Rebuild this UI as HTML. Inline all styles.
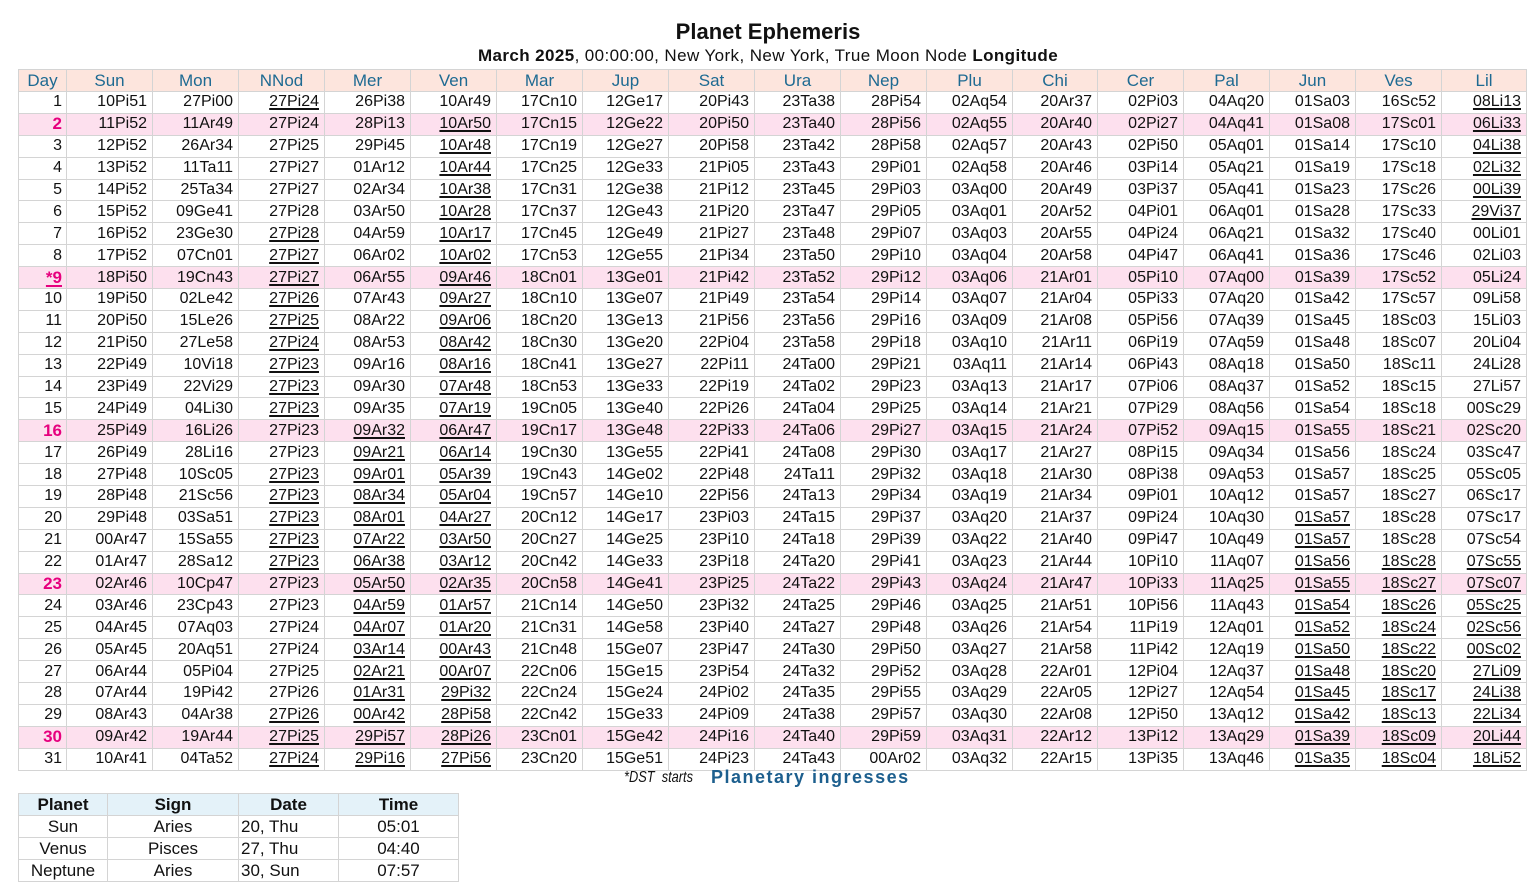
<!DOCTYPE html>
<html><head><meta charset="utf-8">
<style>
body{margin:0;width:1536px;height:889px;background:#fff;position:relative;overflow:hidden;font-family:"Liberation Sans",Arial,sans-serif;color:#111}
.t1{position:absolute;left:0;width:1536px;top:19px;text-align:center;font-weight:bold;font-size:22px;line-height:26px}
.t2{position:absolute;left:0;width:1536px;top:46px;text-align:center;font-size:17px;line-height:20px;letter-spacing:0.4px}
table{border-collapse:collapse;position:absolute;table-layout:fixed}
#m{left:18px;top:69px}
#m td{border:1px solid #d4d4d4;font-size:16px;text-align:right;padding:0 5px 0 0;height:20.9px;line-height:20px;white-space:nowrap;overflow:hidden}
#m tr.h td{background:#fde5dd;color:#1e6a92;text-align:center;padding:0;height:21px;font-size:17px}
#m tr.p td{background:#fde0ee}
#m tr.p td:first-child{color:#e6007e;font-weight:bold;font-size:17px}
.u{text-decoration:underline;text-decoration-thickness:2px;text-underline-offset:2px}
#m td:first-child{padding-right:4px}
.dst{position:absolute;left:624px;top:769px;font-size:16px;font-style:italic;transform:scaleX(0.8);transform-origin:left;white-space:nowrap}
.pi{position:absolute;left:711px;top:767px;font-size:18px;font-weight:bold;color:#1d5f8e;letter-spacing:1.5px;white-space:nowrap}
#g{left:18px;top:793px}
#g td{border:1px solid #d4d4d4;font-size:17px;text-align:center;height:21px;line-height:20px;padding:0}
#g tr.h td{background:#e4f2f9;font-weight:bold}
#g td.l{text-align:left;padding-left:2px}
</style></head><body>
<div class="t1">Planet Ephemeris</div>
<div class="t2"><b>March 2025</b>, 00:00:00, New York, New York, True Moon Node <b>Longitude</b></div>
<table id="m">
<colgroup><col style="width:48px"><col style="width:86px"><col style="width:86px"><col style="width:86px"><col style="width:86px"><col style="width:86px"><col style="width:86px"><col style="width:86px"><col style="width:86px"><col style="width:86px"><col style="width:86px"><col style="width:86px"><col style="width:85px"><col style="width:86px"><col style="width:86px"><col style="width:86px"><col style="width:86px"><col style="width:85px"></colgroup>
<tr class="h"><td>Day</td><td>Sun</td><td>Mon</td><td>NNod</td><td>Mer</td><td>Ven</td><td>Mar</td><td>Jup</td><td>Sat</td><td>Ura</td><td>Nep</td><td>Plu</td><td>Chi</td><td>Cer</td><td>Pal</td><td>Jun</td><td>Ves</td><td>Lil</td></tr>
<tr><td>1</td><td>10Pi51</td><td>27Pi00</td><td><span class="u">27Pi24</span></td><td>26Pi38</td><td>10Ar49</td><td>17Cn10</td><td>12Ge17</td><td>20Pi43</td><td>23Ta38</td><td>28Pi54</td><td>02Aq54</td><td>20Ar37</td><td>02Pi03</td><td>04Aq20</td><td>01Sa03</td><td>16Sc52</td><td><span class="u">08Li13</span></td></tr>
<tr class="p"><td>2</td><td>11Pi52</td><td>11Ar49</td><td>27Pi24</td><td>28Pi13</td><td><span class="u">10Ar50</span></td><td>17Cn15</td><td>12Ge22</td><td>20Pi50</td><td>23Ta40</td><td>28Pi56</td><td>02Aq55</td><td>20Ar40</td><td>02Pi27</td><td>04Aq41</td><td>01Sa08</td><td>17Sc01</td><td><span class="u">06Li33</span></td></tr>
<tr><td>3</td><td>12Pi52</td><td>26Ar34</td><td>27Pi25</td><td>29Pi45</td><td><span class="u">10Ar48</span></td><td>17Cn19</td><td>12Ge27</td><td>20Pi58</td><td>23Ta42</td><td>28Pi58</td><td>02Aq57</td><td>20Ar43</td><td>02Pi50</td><td>05Aq01</td><td>01Sa14</td><td>17Sc10</td><td><span class="u">04Li38</span></td></tr>
<tr><td>4</td><td>13Pi52</td><td>11Ta11</td><td>27Pi27</td><td>01Ar12</td><td><span class="u">10Ar44</span></td><td>17Cn25</td><td>12Ge33</td><td>21Pi05</td><td>23Ta43</td><td>29Pi01</td><td>02Aq58</td><td>20Ar46</td><td>03Pi14</td><td>05Aq21</td><td>01Sa19</td><td>17Sc18</td><td><span class="u">02Li32</span></td></tr>
<tr><td>5</td><td>14Pi52</td><td>25Ta34</td><td>27Pi27</td><td>02Ar34</td><td><span class="u">10Ar38</span></td><td>17Cn31</td><td>12Ge38</td><td>21Pi12</td><td>23Ta45</td><td>29Pi03</td><td>03Aq00</td><td>20Ar49</td><td>03Pi37</td><td>05Aq41</td><td>01Sa23</td><td>17Sc26</td><td><span class="u">00Li39</span></td></tr>
<tr><td>6</td><td>15Pi52</td><td>09Ge41</td><td>27Pi28</td><td>03Ar50</td><td><span class="u">10Ar28</span></td><td>17Cn37</td><td>12Ge43</td><td>21Pi20</td><td>23Ta47</td><td>29Pi05</td><td>03Aq01</td><td>20Ar52</td><td>04Pi01</td><td>06Aq01</td><td>01Sa28</td><td>17Sc33</td><td><span class="u">29Vi37</span></td></tr>
<tr><td>7</td><td>16Pi52</td><td>23Ge30</td><td><span class="u">27Pi28</span></td><td>04Ar59</td><td><span class="u">10Ar17</span></td><td>17Cn45</td><td>12Ge49</td><td>21Pi27</td><td>23Ta48</td><td>29Pi07</td><td>03Aq03</td><td>20Ar55</td><td>04Pi24</td><td>06Aq21</td><td>01Sa32</td><td>17Sc40</td><td>00Li01</td></tr>
<tr><td>8</td><td>17Pi52</td><td>07Cn01</td><td><span class="u">27Pi27</span></td><td>06Ar02</td><td><span class="u">10Ar02</span></td><td>17Cn53</td><td>12Ge55</td><td>21Pi34</td><td>23Ta50</td><td>29Pi10</td><td>03Aq04</td><td>20Ar58</td><td>04Pi47</td><td>06Aq41</td><td>01Sa36</td><td>17Sc46</td><td>02Li03</td></tr>
<tr class="p"><td><span class="u">*9</span></td><td>18Pi50</td><td>19Cn43</td><td><span class="u">27Pi27</span></td><td>06Ar55</td><td><span class="u">09Ar46</span></td><td>18Cn01</td><td>13Ge01</td><td>21Pi42</td><td>23Ta52</td><td>29Pi12</td><td>03Aq06</td><td>21Ar01</td><td>05Pi10</td><td>07Aq00</td><td>01Sa39</td><td>17Sc52</td><td>05Li24</td></tr>
<tr><td>10</td><td>19Pi50</td><td>02Le42</td><td><span class="u">27Pi26</span></td><td>07Ar43</td><td><span class="u">09Ar27</span></td><td>18Cn10</td><td>13Ge07</td><td>21Pi49</td><td>23Ta54</td><td>29Pi14</td><td>03Aq07</td><td>21Ar04</td><td>05Pi33</td><td>07Aq20</td><td>01Sa42</td><td>17Sc57</td><td>09Li58</td></tr>
<tr><td>11</td><td>20Pi50</td><td>15Le26</td><td><span class="u">27Pi25</span></td><td>08Ar22</td><td><span class="u">09Ar06</span></td><td>18Cn20</td><td>13Ge13</td><td>21Pi56</td><td>23Ta56</td><td>29Pi16</td><td>03Aq09</td><td>21Ar08</td><td>05Pi56</td><td>07Aq39</td><td>01Sa45</td><td>18Sc03</td><td>15Li03</td></tr>
<tr><td>12</td><td>21Pi50</td><td>27Le58</td><td><span class="u">27Pi24</span></td><td>08Ar53</td><td><span class="u">08Ar42</span></td><td>18Cn30</td><td>13Ge20</td><td>22Pi04</td><td>23Ta58</td><td>29Pi18</td><td>03Aq10</td><td>21Ar11</td><td>06Pi19</td><td>07Aq59</td><td>01Sa48</td><td>18Sc07</td><td>20Li04</td></tr>
<tr><td>13</td><td>22Pi49</td><td>10Vi18</td><td><span class="u">27Pi23</span></td><td>09Ar16</td><td><span class="u">08Ar16</span></td><td>18Cn41</td><td>13Ge27</td><td>22Pi11</td><td>24Ta00</td><td>29Pi21</td><td>03Aq11</td><td>21Ar14</td><td>06Pi43</td><td>08Aq18</td><td>01Sa50</td><td>18Sc11</td><td>24Li28</td></tr>
<tr><td>14</td><td>23Pi49</td><td>22Vi29</td><td><span class="u">27Pi23</span></td><td>09Ar30</td><td><span class="u">07Ar48</span></td><td>18Cn53</td><td>13Ge33</td><td>22Pi19</td><td>24Ta02</td><td>29Pi23</td><td>03Aq13</td><td>21Ar17</td><td>07Pi06</td><td>08Aq37</td><td>01Sa52</td><td>18Sc15</td><td>27Li57</td></tr>
<tr><td>15</td><td>24Pi49</td><td>04Li30</td><td><span class="u">27Pi23</span></td><td>09Ar35</td><td><span class="u">07Ar19</span></td><td>19Cn05</td><td>13Ge40</td><td>22Pi26</td><td>24Ta04</td><td>29Pi25</td><td>03Aq14</td><td>21Ar21</td><td>07Pi29</td><td>08Aq56</td><td>01Sa54</td><td>18Sc18</td><td>00Sc29</td></tr>
<tr class="p"><td>16</td><td>25Pi49</td><td>16Li26</td><td>27Pi23</td><td><span class="u">09Ar32</span></td><td><span class="u">06Ar47</span></td><td>19Cn17</td><td>13Ge48</td><td>22Pi33</td><td>24Ta06</td><td>29Pi27</td><td>03Aq15</td><td>21Ar24</td><td>07Pi52</td><td>09Aq15</td><td>01Sa55</td><td>18Sc21</td><td>02Sc20</td></tr>
<tr><td>17</td><td>26Pi49</td><td>28Li16</td><td>27Pi23</td><td><span class="u">09Ar21</span></td><td><span class="u">06Ar14</span></td><td>19Cn30</td><td>13Ge55</td><td>22Pi41</td><td>24Ta08</td><td>29Pi30</td><td>03Aq17</td><td>21Ar27</td><td>08Pi15</td><td>09Aq34</td><td>01Sa56</td><td>18Sc24</td><td>03Sc47</td></tr>
<tr><td>18</td><td>27Pi48</td><td>10Sc05</td><td><span class="u">27Pi23</span></td><td><span class="u">09Ar01</span></td><td><span class="u">05Ar39</span></td><td>19Cn43</td><td>14Ge02</td><td>22Pi48</td><td>24Ta11</td><td>29Pi32</td><td>03Aq18</td><td>21Ar30</td><td>08Pi38</td><td>09Aq53</td><td>01Sa57</td><td>18Sc25</td><td>05Sc05</td></tr>
<tr><td>19</td><td>28Pi48</td><td>21Sc56</td><td><span class="u">27Pi23</span></td><td><span class="u">08Ar34</span></td><td><span class="u">05Ar04</span></td><td>19Cn57</td><td>14Ge10</td><td>22Pi56</td><td>24Ta13</td><td>29Pi34</td><td>03Aq19</td><td>21Ar34</td><td>09Pi01</td><td>10Aq12</td><td>01Sa57</td><td>18Sc27</td><td>06Sc17</td></tr>
<tr><td>20</td><td>29Pi48</td><td>03Sa51</td><td><span class="u">27Pi23</span></td><td><span class="u">08Ar01</span></td><td><span class="u">04Ar27</span></td><td>20Cn12</td><td>14Ge17</td><td>23Pi03</td><td>24Ta15</td><td>29Pi37</td><td>03Aq20</td><td>21Ar37</td><td>09Pi24</td><td>10Aq30</td><td><span class="u">01Sa57</span></td><td>18Sc28</td><td>07Sc17</td></tr>
<tr><td>21</td><td>00Ar47</td><td>15Sa55</td><td><span class="u">27Pi23</span></td><td><span class="u">07Ar22</span></td><td><span class="u">03Ar50</span></td><td>20Cn27</td><td>14Ge25</td><td>23Pi10</td><td>24Ta18</td><td>29Pi39</td><td>03Aq22</td><td>21Ar40</td><td>09Pi47</td><td>10Aq49</td><td><span class="u">01Sa57</span></td><td>18Sc28</td><td>07Sc54</td></tr>
<tr><td>22</td><td>01Ar47</td><td>28Sa12</td><td><span class="u">27Pi23</span></td><td><span class="u">06Ar38</span></td><td><span class="u">03Ar12</span></td><td>20Cn42</td><td>14Ge33</td><td>23Pi18</td><td>24Ta20</td><td>29Pi41</td><td>03Aq23</td><td>21Ar44</td><td>10Pi10</td><td>11Aq07</td><td><span class="u">01Sa56</span></td><td><span class="u">18Sc28</span></td><td><span class="u">07Sc55</span></td></tr>
<tr class="p"><td>23</td><td>02Ar46</td><td>10Cp47</td><td>27Pi23</td><td><span class="u">05Ar50</span></td><td><span class="u">02Ar35</span></td><td>20Cn58</td><td>14Ge41</td><td>23Pi25</td><td>24Ta22</td><td>29Pi43</td><td>03Aq24</td><td>21Ar47</td><td>10Pi33</td><td>11Aq25</td><td><span class="u">01Sa55</span></td><td><span class="u">18Sc27</span></td><td><span class="u">07Sc07</span></td></tr>
<tr><td>24</td><td>03Ar46</td><td>23Cp43</td><td>27Pi23</td><td><span class="u">04Ar59</span></td><td><span class="u">01Ar57</span></td><td>21Cn14</td><td>14Ge50</td><td>23Pi32</td><td>24Ta25</td><td>29Pi46</td><td>03Aq25</td><td>21Ar51</td><td>10Pi56</td><td>11Aq43</td><td><span class="u">01Sa54</span></td><td><span class="u">18Sc26</span></td><td><span class="u">05Sc25</span></td></tr>
<tr><td>25</td><td>04Ar45</td><td>07Aq03</td><td>27Pi24</td><td><span class="u">04Ar07</span></td><td><span class="u">01Ar20</span></td><td>21Cn31</td><td>14Ge58</td><td>23Pi40</td><td>24Ta27</td><td>29Pi48</td><td>03Aq26</td><td>21Ar54</td><td>11Pi19</td><td>12Aq01</td><td><span class="u">01Sa52</span></td><td><span class="u">18Sc24</span></td><td><span class="u">02Sc56</span></td></tr>
<tr><td>26</td><td>05Ar45</td><td>20Aq51</td><td>27Pi24</td><td><span class="u">03Ar14</span></td><td><span class="u">00Ar43</span></td><td>21Cn48</td><td>15Ge07</td><td>23Pi47</td><td>24Ta30</td><td>29Pi50</td><td>03Aq27</td><td>21Ar58</td><td>11Pi42</td><td>12Aq19</td><td><span class="u">01Sa50</span></td><td><span class="u">18Sc22</span></td><td><span class="u">00Sc02</span></td></tr>
<tr><td>27</td><td>06Ar44</td><td>05Pi04</td><td>27Pi25</td><td><span class="u">02Ar21</span></td><td><span class="u">00Ar07</span></td><td>22Cn06</td><td>15Ge15</td><td>23Pi54</td><td>24Ta32</td><td>29Pi52</td><td>03Aq28</td><td>22Ar01</td><td>12Pi04</td><td>12Aq37</td><td><span class="u">01Sa48</span></td><td><span class="u">18Sc20</span></td><td><span class="u">27Li09</span></td></tr>
<tr><td>28</td><td>07Ar44</td><td>19Pi42</td><td>27Pi26</td><td><span class="u">01Ar31</span></td><td><span class="u">29Pi32</span></td><td>22Cn24</td><td>15Ge24</td><td>24Pi02</td><td>24Ta35</td><td>29Pi55</td><td>03Aq29</td><td>22Ar05</td><td>12Pi27</td><td>12Aq54</td><td><span class="u">01Sa45</span></td><td><span class="u">18Sc17</span></td><td><span class="u">24Li38</span></td></tr>
<tr><td>29</td><td>08Ar43</td><td>04Ar38</td><td><span class="u">27Pi26</span></td><td><span class="u">00Ar42</span></td><td><span class="u">28Pi58</span></td><td>22Cn42</td><td>15Ge33</td><td>24Pi09</td><td>24Ta38</td><td>29Pi57</td><td>03Aq30</td><td>22Ar08</td><td>12Pi50</td><td>13Aq12</td><td><span class="u">01Sa42</span></td><td><span class="u">18Sc13</span></td><td><span class="u">22Li34</span></td></tr>
<tr class="p"><td>30</td><td>09Ar42</td><td>19Ar44</td><td><span class="u">27Pi25</span></td><td><span class="u">29Pi57</span></td><td><span class="u">28Pi26</span></td><td>23Cn01</td><td>15Ge42</td><td>24Pi16</td><td>24Ta40</td><td>29Pi59</td><td>03Aq31</td><td>22Ar12</td><td>13Pi12</td><td>13Aq29</td><td><span class="u">01Sa39</span></td><td><span class="u">18Sc09</span></td><td><span class="u">20Li44</span></td></tr>
<tr><td>31</td><td>10Ar41</td><td>04Ta52</td><td><span class="u">27Pi24</span></td><td><span class="u">29Pi16</span></td><td><span class="u">27Pi56</span></td><td>23Cn20</td><td>15Ge51</td><td>24Pi23</td><td>24Ta43</td><td>00Ar02</td><td>03Aq32</td><td>22Ar15</td><td>13Pi35</td><td>13Aq46</td><td><span class="u">01Sa35</span></td><td><span class="u">18Sc04</span></td><td><span class="u">18Li52</span></td></tr>
</table>
<div class="dst">*DST&nbsp; starts</div>
<div class="pi">Planetary ingresses</div>
<table id="g">
<colgroup><col style="width:89px"><col style="width:131px"><col style="width:100px"><col style="width:120px"></colgroup>
<tr class="h"><td>Planet</td><td>Sign</td><td>Date</td><td>Time</td></tr>
<tr><td>Sun</td><td>Aries</td><td class="l">20, Thu</td><td>05:01</td></tr>
<tr><td>Venus</td><td>Pisces</td><td class="l">27, Thu</td><td>04:40</td></tr>
<tr><td>Neptune</td><td>Aries</td><td class="l">30, Sun</td><td>07:57</td></tr>
</table>
</body></html>
